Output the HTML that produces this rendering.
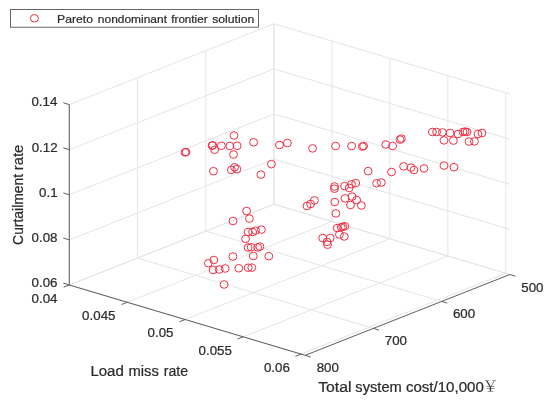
<!DOCTYPE html>
<html><head><meta charset="utf-8"><title>Pareto frontier</title>
<style>
html,body{margin:0;padding:0;background:#fff;}
svg{display:block;filter:blur(0.4px);}
text{stroke:#2b2b2b;stroke-width:0.22px;}
svg{font-family:"Liberation Sans","Noto Sans CJK SC",sans-serif;}
</style></head><body>
<svg width="550" height="401" viewBox="0 0 550 401">
<rect width="550" height="401" fill="#fff"/>
<line x1="69.30" y1="285.00" x2="69.30" y2="104.60" stroke="#e5e5e5" stroke-width="1"/>
<line x1="137.53" y1="258.07" x2="137.53" y2="77.67" stroke="#e5e5e5" stroke-width="1"/>
<line x1="205.77" y1="231.13" x2="205.77" y2="50.73" stroke="#e5e5e5" stroke-width="1"/>
<line x1="274.00" y1="204.20" x2="274.00" y2="23.80" stroke="#e5e5e5" stroke-width="1"/>
<line x1="274.00" y1="204.20" x2="274.00" y2="23.80" stroke="#e5e5e5" stroke-width="1"/>
<line x1="331.95" y1="221.47" x2="331.95" y2="41.07" stroke="#e5e5e5" stroke-width="1"/>
<line x1="389.90" y1="238.74" x2="389.90" y2="58.34" stroke="#e5e5e5" stroke-width="1"/>
<line x1="447.85" y1="256.01" x2="447.85" y2="75.61" stroke="#e5e5e5" stroke-width="1"/>
<line x1="505.80" y1="273.28" x2="505.80" y2="92.88" stroke="#e5e5e5" stroke-width="1"/>
<line x1="69.30" y1="285.00" x2="274.00" y2="204.20" stroke="#e5e5e5" stroke-width="1"/>
<line x1="274.00" y1="204.20" x2="509.90" y2="274.50" stroke="#e5e5e5" stroke-width="1"/>
<line x1="69.30" y1="239.90" x2="274.00" y2="159.10" stroke="#e5e5e5" stroke-width="1"/>
<line x1="274.00" y1="159.10" x2="509.90" y2="229.40" stroke="#e5e5e5" stroke-width="1"/>
<line x1="69.30" y1="194.80" x2="274.00" y2="114.00" stroke="#e5e5e5" stroke-width="1"/>
<line x1="274.00" y1="114.00" x2="509.90" y2="184.30" stroke="#e5e5e5" stroke-width="1"/>
<line x1="69.30" y1="149.70" x2="274.00" y2="68.90" stroke="#e5e5e5" stroke-width="1"/>
<line x1="274.00" y1="68.90" x2="509.90" y2="139.20" stroke="#e5e5e5" stroke-width="1"/>
<line x1="69.30" y1="104.60" x2="274.00" y2="23.80" stroke="#e5e5e5" stroke-width="1"/>
<line x1="274.00" y1="23.80" x2="509.90" y2="94.10" stroke="#e5e5e5" stroke-width="1"/>
<line x1="69.30" y1="285.00" x2="305.20" y2="355.30" stroke="#e5e5e5" stroke-width="1"/>
<line x1="137.53" y1="258.07" x2="373.43" y2="328.37" stroke="#e5e5e5" stroke-width="1"/>
<line x1="205.77" y1="231.13" x2="441.67" y2="301.43" stroke="#e5e5e5" stroke-width="1"/>
<line x1="274.00" y1="204.20" x2="509.90" y2="274.50" stroke="#e5e5e5" stroke-width="1"/>
<line x1="69.30" y1="285.00" x2="274.00" y2="204.20" stroke="#e5e5e5" stroke-width="1"/>
<line x1="127.25" y1="302.27" x2="331.95" y2="221.47" stroke="#e5e5e5" stroke-width="1"/>
<line x1="185.20" y1="319.54" x2="389.90" y2="238.74" stroke="#e5e5e5" stroke-width="1"/>
<line x1="243.15" y1="336.81" x2="447.85" y2="256.01" stroke="#e5e5e5" stroke-width="1"/>
<line x1="301.10" y1="354.08" x2="505.80" y2="273.28" stroke="#e5e5e5" stroke-width="1"/>
<line x1="69.30" y1="285.00" x2="69.30" y2="104.60" stroke="#555555" stroke-width="0.95"/>
<line x1="69.30" y1="285.00" x2="305.20" y2="355.30" stroke="#555555" stroke-width="0.95"/>
<line x1="305.20" y1="355.30" x2="509.90" y2="274.50" stroke="#555555" stroke-width="0.95"/>
<line x1="69.30" y1="285.00" x2="63.30" y2="283.10" stroke="#555555" stroke-width="0.95"/>
<text font-size="12.4" fill="#2b2b2b"><tspan x="31.54" y="286.80" textLength="25.94" lengthAdjust="spacingAndGlyphs">0.06</tspan></text>
<line x1="69.30" y1="239.90" x2="63.30" y2="238.00" stroke="#555555" stroke-width="0.95"/>
<text font-size="12.4" fill="#2b2b2b"><tspan x="31.54" y="241.70" textLength="25.94" lengthAdjust="spacingAndGlyphs">0.08</tspan></text>
<line x1="69.30" y1="194.80" x2="63.30" y2="192.90" stroke="#555555" stroke-width="0.95"/>
<text font-size="12.4" fill="#2b2b2b"><tspan x="39.08" y="196.60" textLength="18.53" lengthAdjust="spacingAndGlyphs">0.1</tspan></text>
<line x1="69.30" y1="149.70" x2="63.30" y2="147.80" stroke="#555555" stroke-width="0.95"/>
<text font-size="12.4" fill="#2b2b2b"><tspan x="31.67" y="151.50" textLength="25.94" lengthAdjust="spacingAndGlyphs">0.12</tspan></text>
<line x1="69.30" y1="104.60" x2="63.30" y2="102.70" stroke="#555555" stroke-width="0.95"/>
<text font-size="12.4" fill="#2b2b2b"><tspan x="31.40" y="106.40" textLength="25.94" lengthAdjust="spacingAndGlyphs">0.14</tspan></text>
<line x1="69.30" y1="285.00" x2="63.70" y2="287.20" stroke="#555555" stroke-width="0.95"/>
<text font-size="12.4" fill="#2b2b2b"><tspan x="31.60" y="302.60" textLength="25.94" lengthAdjust="spacingAndGlyphs">0.04</tspan></text>
<line x1="127.25" y1="302.27" x2="121.65" y2="304.47" stroke="#555555" stroke-width="0.95"/>
<text font-size="12.4" fill="#2b2b2b"><tspan x="82.12" y="319.95" textLength="33.36" lengthAdjust="spacingAndGlyphs">0.045</tspan></text>
<line x1="185.20" y1="319.54" x2="179.60" y2="321.74" stroke="#555555" stroke-width="0.95"/>
<text font-size="12.4" fill="#2b2b2b"><tspan x="147.54" y="337.30" textLength="25.94" lengthAdjust="spacingAndGlyphs">0.05</tspan></text>
<line x1="243.15" y1="336.81" x2="237.55" y2="339.01" stroke="#555555" stroke-width="0.95"/>
<text font-size="12.4" fill="#2b2b2b"><tspan x="198.52" y="354.65" textLength="33.36" lengthAdjust="spacingAndGlyphs">0.055</tspan></text>
<line x1="301.10" y1="354.08" x2="295.50" y2="356.28" stroke="#555555" stroke-width="0.95"/>
<text font-size="12.4" fill="#2b2b2b"><tspan x="263.94" y="372.00" textLength="25.94" lengthAdjust="spacingAndGlyphs">0.06</tspan></text>
<line x1="305.20" y1="355.30" x2="310.80" y2="357.00" stroke="#555555" stroke-width="0.95"/>
<text font-size="12.4" fill="#2b2b2b"><tspan x="316.67" y="372.00" textLength="22.24" lengthAdjust="spacingAndGlyphs">800</tspan></text>
<line x1="373.43" y1="328.37" x2="379.03" y2="330.07" stroke="#555555" stroke-width="0.95"/>
<text font-size="12.4" fill="#2b2b2b"><tspan x="384.73" y="345.20" textLength="22.24" lengthAdjust="spacingAndGlyphs">700</tspan></text>
<line x1="441.67" y1="301.43" x2="447.27" y2="303.13" stroke="#555555" stroke-width="0.95"/>
<text font-size="12.4" fill="#2b2b2b"><tspan x="452.93" y="318.40" textLength="22.24" lengthAdjust="spacingAndGlyphs">600</tspan></text>
<line x1="509.90" y1="274.50" x2="515.50" y2="276.20" stroke="#555555" stroke-width="0.95"/>
<text font-size="12.4" fill="#2b2b2b"><tspan x="521.27" y="291.60" textLength="22.24" lengthAdjust="spacingAndGlyphs">500</tspan></text>
<text font-size="13.8" fill="#2b2b2b"><tspan x="90.40" y="375.70" textLength="33.45" lengthAdjust="spacingAndGlyphs">Load</tspan><tspan x="128.51" y="375.70" textLength="30.33" lengthAdjust="spacingAndGlyphs">miss</tspan><tspan x="163.75" y="375.70" textLength="24.36" lengthAdjust="spacingAndGlyphs">rate</tspan></text>
<text font-size="13.8" fill="#2b2b2b"><tspan x="318.18" y="391.50" textLength="33.30" lengthAdjust="spacingAndGlyphs">Total</tspan><tspan x="355.31" y="391.50" textLength="46.52" lengthAdjust="spacingAndGlyphs">system</tspan><tspan x="405.90" y="391.50" textLength="77.95" lengthAdjust="spacingAndGlyphs">cost/10,000</tspan></text>
<text x="482.05" y="390.5" font-size="14.1" fill="#3a3a3a" font-family="Noto Serif CJK SC, serif" style="stroke:none" textLength="16.8" lengthAdjust="spacingAndGlyphs">￥</text>
<g transform="translate(23.2,0) scale(1.08,1) rotate(-90)"><text font-size="13.8" fill="#2b2b2b"><tspan x="-244.89" y="0.00" textLength="70.96" lengthAdjust="spacingAndGlyphs">Curtailment</tspan><tspan x="-170.29" y="0.00" textLength="25.63" lengthAdjust="spacingAndGlyphs">rate</tspan></text></g>
<rect x="10.5" y="9.5" width="248" height="17.7" fill="#fff" stroke="#555555" stroke-width="0.9"/>
<text font-size="11.8" fill="#2b2b2b"><tspan x="57.02" y="22.80" textLength="36.02" lengthAdjust="spacingAndGlyphs">Pareto</tspan><tspan x="97.88" y="22.80" textLength="69.09" lengthAdjust="spacingAndGlyphs">nondominant</tspan><tspan x="171.28" y="22.80" textLength="36.27" lengthAdjust="spacingAndGlyphs">frontier</tspan><tspan x="212.16" y="22.80" textLength="42.13" lengthAdjust="spacingAndGlyphs">solution</tspan></text>
<ellipse cx="185.0" cy="152.4" rx="3.95" ry="3.8" fill="none" stroke="#ee3145" stroke-width="1.0"/>
<ellipse cx="186.0" cy="152.0" rx="3.95" ry="3.8" fill="none" stroke="#ee3145" stroke-width="1.0"/>
<ellipse cx="212.1" cy="145.7" rx="3.95" ry="3.8" fill="none" stroke="#ee3145" stroke-width="1.0"/>
<ellipse cx="212.8" cy="145.3" rx="3.95" ry="3.8" fill="none" stroke="#ee3145" stroke-width="1.0"/>
<ellipse cx="214.6" cy="149.8" rx="3.95" ry="3.8" fill="none" stroke="#ee3145" stroke-width="1.0"/>
<ellipse cx="221.4" cy="145.8" rx="3.95" ry="3.8" fill="none" stroke="#ee3145" stroke-width="1.0"/>
<ellipse cx="229.8" cy="146.0" rx="3.95" ry="3.8" fill="none" stroke="#ee3145" stroke-width="1.0"/>
<ellipse cx="237.1" cy="145.8" rx="3.95" ry="3.8" fill="none" stroke="#ee3145" stroke-width="1.0"/>
<ellipse cx="234.0" cy="135.5" rx="3.95" ry="3.8" fill="none" stroke="#ee3145" stroke-width="1.0"/>
<ellipse cx="233.5" cy="154.5" rx="3.95" ry="3.8" fill="none" stroke="#ee3145" stroke-width="1.0"/>
<ellipse cx="253.6" cy="142.3" rx="3.95" ry="3.8" fill="none" stroke="#ee3145" stroke-width="1.0"/>
<ellipse cx="213.4" cy="171.2" rx="3.95" ry="3.8" fill="none" stroke="#ee3145" stroke-width="1.0"/>
<ellipse cx="231.4" cy="169.9" rx="3.95" ry="3.8" fill="none" stroke="#ee3145" stroke-width="1.0"/>
<ellipse cx="234.6" cy="167.3" rx="3.95" ry="3.8" fill="none" stroke="#ee3145" stroke-width="1.0"/>
<ellipse cx="236.9" cy="169.1" rx="3.95" ry="3.8" fill="none" stroke="#ee3145" stroke-width="1.0"/>
<ellipse cx="260.9" cy="174.6" rx="3.95" ry="3.8" fill="none" stroke="#ee3145" stroke-width="1.0"/>
<ellipse cx="271.4" cy="164.2" rx="3.95" ry="3.8" fill="none" stroke="#ee3145" stroke-width="1.0"/>
<ellipse cx="279.5" cy="145.0" rx="3.95" ry="3.8" fill="none" stroke="#ee3145" stroke-width="1.0"/>
<ellipse cx="287.4" cy="143.0" rx="3.95" ry="3.8" fill="none" stroke="#ee3145" stroke-width="1.0"/>
<ellipse cx="312.6" cy="148.4" rx="3.95" ry="3.8" fill="none" stroke="#ee3145" stroke-width="1.0"/>
<ellipse cx="335.6" cy="146.0" rx="3.95" ry="3.8" fill="none" stroke="#ee3145" stroke-width="1.0"/>
<ellipse cx="351.6" cy="146.0" rx="3.95" ry="3.8" fill="none" stroke="#ee3145" stroke-width="1.0"/>
<ellipse cx="362.4" cy="146.6" rx="3.95" ry="3.8" fill="none" stroke="#ee3145" stroke-width="1.0"/>
<ellipse cx="363.6" cy="146.0" rx="3.95" ry="3.8" fill="none" stroke="#ee3145" stroke-width="1.0"/>
<ellipse cx="385.8" cy="144.5" rx="3.95" ry="3.8" fill="none" stroke="#ee3145" stroke-width="1.0"/>
<ellipse cx="392.6" cy="146.0" rx="3.95" ry="3.8" fill="none" stroke="#ee3145" stroke-width="1.0"/>
<ellipse cx="400.0" cy="139.6" rx="3.95" ry="3.8" fill="none" stroke="#ee3145" stroke-width="1.0"/>
<ellipse cx="401.4" cy="138.6" rx="3.95" ry="3.8" fill="none" stroke="#ee3145" stroke-width="1.0"/>
<ellipse cx="368.1" cy="171.1" rx="3.95" ry="3.8" fill="none" stroke="#ee3145" stroke-width="1.0"/>
<ellipse cx="391.5" cy="172.0" rx="3.95" ry="3.8" fill="none" stroke="#ee3145" stroke-width="1.0"/>
<ellipse cx="334.5" cy="186.5" rx="3.95" ry="3.8" fill="none" stroke="#ee3145" stroke-width="1.0"/>
<ellipse cx="334.5" cy="188.7" rx="3.95" ry="3.8" fill="none" stroke="#ee3145" stroke-width="1.0"/>
<ellipse cx="344.6" cy="186.1" rx="3.95" ry="3.8" fill="none" stroke="#ee3145" stroke-width="1.0"/>
<ellipse cx="349.2" cy="187.9" rx="3.95" ry="3.8" fill="none" stroke="#ee3145" stroke-width="1.0"/>
<ellipse cx="351.5" cy="184.3" rx="3.95" ry="3.8" fill="none" stroke="#ee3145" stroke-width="1.0"/>
<ellipse cx="355.7" cy="183.1" rx="3.95" ry="3.8" fill="none" stroke="#ee3145" stroke-width="1.0"/>
<ellipse cx="376.6" cy="183.3" rx="3.95" ry="3.8" fill="none" stroke="#ee3145" stroke-width="1.0"/>
<ellipse cx="381.3" cy="182.5" rx="3.95" ry="3.8" fill="none" stroke="#ee3145" stroke-width="1.0"/>
<ellipse cx="432.4" cy="132.0" rx="3.95" ry="3.8" fill="none" stroke="#ee3145" stroke-width="1.0"/>
<ellipse cx="436.6" cy="132.0" rx="3.95" ry="3.8" fill="none" stroke="#ee3145" stroke-width="1.0"/>
<ellipse cx="442.4" cy="132.4" rx="3.95" ry="3.8" fill="none" stroke="#ee3145" stroke-width="1.0"/>
<ellipse cx="450.0" cy="133.0" rx="3.95" ry="3.8" fill="none" stroke="#ee3145" stroke-width="1.0"/>
<ellipse cx="458.0" cy="134.0" rx="3.95" ry="3.8" fill="none" stroke="#ee3145" stroke-width="1.0"/>
<ellipse cx="463.0" cy="132.0" rx="3.95" ry="3.8" fill="none" stroke="#ee3145" stroke-width="1.0"/>
<ellipse cx="465.0" cy="131.6" rx="3.95" ry="3.8" fill="none" stroke="#ee3145" stroke-width="1.0"/>
<ellipse cx="467.0" cy="132.0" rx="3.95" ry="3.8" fill="none" stroke="#ee3145" stroke-width="1.0"/>
<ellipse cx="478.0" cy="134.0" rx="3.95" ry="3.8" fill="none" stroke="#ee3145" stroke-width="1.0"/>
<ellipse cx="482.0" cy="133.0" rx="3.95" ry="3.8" fill="none" stroke="#ee3145" stroke-width="1.0"/>
<ellipse cx="444.0" cy="140.4" rx="3.95" ry="3.8" fill="none" stroke="#ee3145" stroke-width="1.0"/>
<ellipse cx="453.4" cy="140.6" rx="3.95" ry="3.8" fill="none" stroke="#ee3145" stroke-width="1.0"/>
<ellipse cx="469.0" cy="141.6" rx="3.95" ry="3.8" fill="none" stroke="#ee3145" stroke-width="1.0"/>
<ellipse cx="474.4" cy="141.4" rx="3.95" ry="3.8" fill="none" stroke="#ee3145" stroke-width="1.0"/>
<ellipse cx="403.6" cy="166.4" rx="3.95" ry="3.8" fill="none" stroke="#ee3145" stroke-width="1.0"/>
<ellipse cx="411.0" cy="167.6" rx="3.95" ry="3.8" fill="none" stroke="#ee3145" stroke-width="1.0"/>
<ellipse cx="414.0" cy="170.0" rx="3.95" ry="3.8" fill="none" stroke="#ee3145" stroke-width="1.0"/>
<ellipse cx="424.0" cy="168.4" rx="3.95" ry="3.8" fill="none" stroke="#ee3145" stroke-width="1.0"/>
<ellipse cx="444.0" cy="165.6" rx="3.95" ry="3.8" fill="none" stroke="#ee3145" stroke-width="1.0"/>
<ellipse cx="454.0" cy="167.2" rx="3.95" ry="3.8" fill="none" stroke="#ee3145" stroke-width="1.0"/>
<ellipse cx="246.6" cy="211.0" rx="3.95" ry="3.8" fill="none" stroke="#ee3145" stroke-width="1.0"/>
<ellipse cx="249.4" cy="218.6" rx="3.95" ry="3.8" fill="none" stroke="#ee3145" stroke-width="1.0"/>
<ellipse cx="233.0" cy="221.0" rx="3.95" ry="3.8" fill="none" stroke="#ee3145" stroke-width="1.0"/>
<ellipse cx="248.0" cy="232.0" rx="3.95" ry="3.8" fill="none" stroke="#ee3145" stroke-width="1.0"/>
<ellipse cx="252.6" cy="232.0" rx="3.95" ry="3.8" fill="none" stroke="#ee3145" stroke-width="1.0"/>
<ellipse cx="255.6" cy="230.6" rx="3.95" ry="3.8" fill="none" stroke="#ee3145" stroke-width="1.0"/>
<ellipse cx="261.4" cy="229.6" rx="3.95" ry="3.8" fill="none" stroke="#ee3145" stroke-width="1.0"/>
<ellipse cx="245.6" cy="238.8" rx="3.95" ry="3.8" fill="none" stroke="#ee3145" stroke-width="1.0"/>
<ellipse cx="248.1" cy="247.5" rx="3.95" ry="3.8" fill="none" stroke="#ee3145" stroke-width="1.0"/>
<ellipse cx="251.2" cy="247.3" rx="3.95" ry="3.8" fill="none" stroke="#ee3145" stroke-width="1.0"/>
<ellipse cx="257.7" cy="247.4" rx="3.95" ry="3.8" fill="none" stroke="#ee3145" stroke-width="1.0"/>
<ellipse cx="259.9" cy="246.6" rx="3.95" ry="3.8" fill="none" stroke="#ee3145" stroke-width="1.0"/>
<ellipse cx="253.3" cy="256.0" rx="3.95" ry="3.8" fill="none" stroke="#ee3145" stroke-width="1.0"/>
<ellipse cx="268.8" cy="256.2" rx="3.95" ry="3.8" fill="none" stroke="#ee3145" stroke-width="1.0"/>
<ellipse cx="232.9" cy="256.5" rx="3.95" ry="3.8" fill="none" stroke="#ee3145" stroke-width="1.0"/>
<ellipse cx="213.8" cy="260.0" rx="3.95" ry="3.8" fill="none" stroke="#ee3145" stroke-width="1.0"/>
<ellipse cx="208.4" cy="263.2" rx="3.95" ry="3.8" fill="none" stroke="#ee3145" stroke-width="1.0"/>
<ellipse cx="213.1" cy="270.0" rx="3.95" ry="3.8" fill="none" stroke="#ee3145" stroke-width="1.0"/>
<ellipse cx="219.2" cy="269.5" rx="3.95" ry="3.8" fill="none" stroke="#ee3145" stroke-width="1.0"/>
<ellipse cx="225.2" cy="268.5" rx="3.95" ry="3.8" fill="none" stroke="#ee3145" stroke-width="1.0"/>
<ellipse cx="238.8" cy="268.3" rx="3.95" ry="3.8" fill="none" stroke="#ee3145" stroke-width="1.0"/>
<ellipse cx="248.2" cy="267.7" rx="3.95" ry="3.8" fill="none" stroke="#ee3145" stroke-width="1.0"/>
<ellipse cx="251.8" cy="267.6" rx="3.95" ry="3.8" fill="none" stroke="#ee3145" stroke-width="1.0"/>
<ellipse cx="224.1" cy="284.5" rx="3.95" ry="3.8" fill="none" stroke="#ee3145" stroke-width="1.0"/>
<ellipse cx="307.0" cy="206.0" rx="3.95" ry="3.8" fill="none" stroke="#ee3145" stroke-width="1.0"/>
<ellipse cx="310.6" cy="204.0" rx="3.95" ry="3.8" fill="none" stroke="#ee3145" stroke-width="1.0"/>
<ellipse cx="314.4" cy="200.4" rx="3.95" ry="3.8" fill="none" stroke="#ee3145" stroke-width="1.0"/>
<ellipse cx="334.8" cy="202.0" rx="3.95" ry="3.8" fill="none" stroke="#ee3145" stroke-width="1.0"/>
<ellipse cx="345.0" cy="198.4" rx="3.95" ry="3.8" fill="none" stroke="#ee3145" stroke-width="1.0"/>
<ellipse cx="352.1" cy="196.6" rx="3.95" ry="3.8" fill="none" stroke="#ee3145" stroke-width="1.0"/>
<ellipse cx="356.6" cy="200.0" rx="3.95" ry="3.8" fill="none" stroke="#ee3145" stroke-width="1.0"/>
<ellipse cx="350.5" cy="205.0" rx="3.95" ry="3.8" fill="none" stroke="#ee3145" stroke-width="1.0"/>
<ellipse cx="361.4" cy="205.5" rx="3.95" ry="3.8" fill="none" stroke="#ee3145" stroke-width="1.0"/>
<ellipse cx="335.9" cy="213.4" rx="3.95" ry="3.8" fill="none" stroke="#ee3145" stroke-width="1.0"/>
<ellipse cx="337.2" cy="228.1" rx="3.95" ry="3.8" fill="none" stroke="#ee3145" stroke-width="1.0"/>
<ellipse cx="341.2" cy="227.3" rx="3.95" ry="3.8" fill="none" stroke="#ee3145" stroke-width="1.0"/>
<ellipse cx="342.8" cy="226.8" rx="3.95" ry="3.8" fill="none" stroke="#ee3145" stroke-width="1.0"/>
<ellipse cx="344.8" cy="226.2" rx="3.95" ry="3.8" fill="none" stroke="#ee3145" stroke-width="1.0"/>
<ellipse cx="339.4" cy="234.5" rx="3.95" ry="3.8" fill="none" stroke="#ee3145" stroke-width="1.0"/>
<ellipse cx="344.3" cy="236.5" rx="3.95" ry="3.8" fill="none" stroke="#ee3145" stroke-width="1.0"/>
<ellipse cx="322.7" cy="238.0" rx="3.95" ry="3.8" fill="none" stroke="#ee3145" stroke-width="1.0"/>
<ellipse cx="330.2" cy="238.0" rx="3.95" ry="3.8" fill="none" stroke="#ee3145" stroke-width="1.0"/>
<ellipse cx="327.0" cy="241.9" rx="3.95" ry="3.8" fill="none" stroke="#ee3145" stroke-width="1.0"/>
<ellipse cx="327.6" cy="244.7" rx="3.95" ry="3.8" fill="none" stroke="#ee3145" stroke-width="1.0"/>
<ellipse cx="34.4" cy="18.3" rx="3.95" ry="3.8" fill="none" stroke="#ee3145" stroke-width="1.0"/>
</svg>
</body></html>
